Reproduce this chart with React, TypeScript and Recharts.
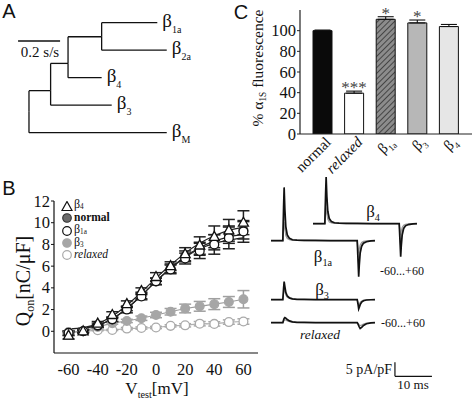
import React from 'react';
import {
  ComposedChart, BarChart, LineChart, Bar, Line, Scatter, XAxis, YAxis,
  ErrorBar, Cell, LabelList, ReferenceLine,
} from 'recharts';

const SERIF = '"Liberation Serif", "Times New Roman", serif';
const SANS = '"Liberation Sans", Arial, sans-serif';

// ---------- Panel A: tree ----------
const treeSub = ['', '', '', '', '1a', '2a', '4', '3', 'M'];
const treeX = [0, 0.103, 0.186, 0.346, 0.611, 0.656, 0.346, 0.394, 0.656];
const treeY = [4.24, 3.47, 2.48, 1.51, 1, 2, 3, 4, 5];
const treeParent = [-1, 0, 1, 2, 3, 3, 2, 1, 0];
const treeScaleLen = 0.2;
const treeScaleStart = -0.052;
const treeScaleRow = 1.665;

// ---------- Panel B: charge-voltage ----------
const voltages = [-60, -50, -40, -30, -20, -10, 0, 10, 20, 30, 40, 50, 60];
const qB4 = [-0.4, 0.0, 0.7, 1.5, 2.5, 3.7, 5.0, 6.0, 7.1, 7.9, 8.7, 9.3, 10.0];
const eB4 = [0.3, 0.2, 0.2, 0.3, 0.3, 0.3, 0.4, 0.4, 0.6, 0.8, 1.0, 1.0, 1.1];
const qNormal = [-0.2, 0.0, 0.5, 1.1, 2.1, 3.3, 4.6, 5.8, 6.9, 7.6, 8.2, 8.9, 9.3];
const eNormal = [0.2, 0.1, 0.1, 0.2, 0.2, 0.3, 0.3, 0.4, 0.5, 0.6, 0.7, 0.8, 0.8];
const qB1a = [-0.15, 0.0, 0.55, 1.1, 2.0, 3.2, 4.6, 5.7, 6.7, 7.4, 8.0, 8.6, 9.2];
const eB1a = [0.2, 0.1, 0.2, 0.2, 0.3, 0.3, 0.3, 0.4, 0.5, 0.7, 0.9, 1.0, 1.0];
const qB3 = [-0.1, 0.0, 0.4, 0.75, 0.95, 1.2, 1.5, 1.8, 2.1, 2.3, 2.5, 2.7, 2.95];
const eB3 = [0.1, 0.1, 0.1, 0.1, 0.15, 0.2, 0.25, 0.3, 0.4, 0.45, 0.5, 0.5, 0.8];
const qRelaxed = [-0.1, 0.0, 0.1, 0.12, 0.25, 0.3, 0.35, 0.5, 0.55, 0.7, 0.68, 0.85, 0.9];
const eRelaxed = [0.1, 0.05, 0.05, 0.05, 0.1, 0.1, 0.1, 0.1, 0.15, 0.2, 0.2, 0.2, 0.25];
const fitB4 = [0.25, 0.35, 0.7, 1.4, 2.4, 3.6, 4.9, 6.1, 7.2, 8.1, 8.8, 9.3, 9.6];
const fitNormal = [0.2, 0.3, 0.55, 1.15, 2.1, 3.3, 4.6, 5.8, 6.9, 7.7, 8.3, 8.7, 8.9];
const fitB1a = [0.2, 0.3, 0.55, 1.15, 2.1, 3.3, 4.6, 5.8, 6.8, 7.6, 8.1, 8.4, 8.6];
const bXTicks = [-60, -40, -20, 0, 20, 40, 60];
const bYTicks = [0, 2, 4, 6, 8, 10, 12];

// ---------- Panel C: bars ----------
const cCats = ['normal', 'relaxed', 'β1a', 'β3', 'β4'];
const cTickMain = ['normal', 'relaxed', 'β', 'β', 'β'];
const cTickSub = ['', '', '1a', '3', '4'];
const cValues = [100, 39.5, 111, 107.5, 104];
const cErrors = [0.6, 2, 2.5, 2.8, 2];
const cStars = ['', '***', '*', '*', ''];
const cFills = ['#0a0a0a', '#ffffff', 'url(#hatchB1a)', '#b7b7b7', '#e6e6e6'];
const cYTicks = [0, 20, 40, 60, 80, 100];

// ---------- Panel B right: current traces ----------
const traceTime = [0, 2, 3.2, 3.4, 3.55, 3.75, 4.0, 4.4, 5, 5.8, 7, 9, 12, 16, 20, 23.3, 23.55, 23.7, 23.85, 24.1, 24.5, 25.0, 25.8, 27, 28.1];
const b1aBlack = [0, 0, 0, 12, 19, 11, 5, 2, 0.8, 0.3, 0.15, 0.1, 0.05, 0, 0, 0, -8, -12.9, -9, -4.5, -2, -0.9, -0.4, -0.1, 0];
const b1aGray1 = [0, 0, 0, 8.5, 13.5, 8, 3.6, 1.4, 0.6, 0.2, 0.1, 0.05, 0, 0, 0, 0, -5.6, -9, -6.3, -3.2, -1.4, -0.6, -0.3, -0.1, 0];
const b1aGray2 = [0, 0, 0, 4.2, 6.6, 4, 1.8, 0.7, 0.3, 0.1, 0.05, 0, 0, 0, 0, 0, -2.8, -4.5, -3.2, -1.6, -0.7, -0.3, -0.1, 0, 0];
const b4Black = [0, 0, 0, 10.5, 16.6, 9.6, 4.4, 1.8, 0.7, 0.3, 0.15, 0.1, 0.05, 0, 0, 0, -7.4, -11.8, -8.2, -4.1, -1.8, -0.8, -0.35, -0.1, 0];
const b4Gray1 = [0, 0, 0, 7.4, 11.6, 6.7, 3.1, 1.3, 0.5, 0.2, 0.1, 0.05, 0, 0, 0, 0, -5.2, -8.3, -5.8, -2.9, -1.3, -0.6, -0.25, -0.1, 0];
const b4Gray2 = [0, 0, 0, 3.7, 5.8, 3.4, 1.5, 0.6, 0.25, 0.1, 0.05, 0, 0, 0, 0, 0, -2.6, -4.1, -2.9, -1.4, -0.6, -0.3, -0.1, 0, 0];
const b3Black = [0, 0, 0, 4, 6.4, 4.6, 2.6, 1.3, 0.6, 0.25, 0.1, 0.05, 0, 0, 0, 0, -1.9, -3.3, -2.8, -1.8, -0.9, -0.4, -0.15, -0.05, 0];
const b3Gray = [0, 0, 0, 2.5, 4, 2.9, 1.6, 0.8, 0.4, 0.15, 0.05, 0, 0, 0, 0, 0, -1.1, -1.9, -1.6, -1.0, -0.5, -0.2, -0.1, 0, 0];
const relBlack = [0, 0, 0, 0.9, 1.5, 1.8, 1.6, 1.1, 0.6, 0.25, 0.1, 0.05, 0, 0, 0, 0, -0.6, -1.1, -1.5, -2.1, -1.7, -1.0, -0.4, -0.1, 0];
const relGray = [0, 0, 0, 0.5, 0.8, 1, 0.9, 0.6, 0.35, 0.15, 0.05, 0, 0, 0, 0, 0, -0.3, -0.6, -0.8, -1.1, -0.9, -0.5, -0.2, -0.05, 0];
const scaleBarMs = 10;
const scaleBarPA = 5;
const scaleBarT0 = 33.5;
const scaleBarI0 = -19.2;

// ---------- helpers ----------
const Txt = ({ cx, cy, size, family = SERIF, rotate = 0, italic = false, bold = false, color = '#111', children }: any) => (
  <div
    style={{
      position: 'absolute', left: cx, top: cy, fontSize: size, fontFamily: family, lineHeight: 1,
      whiteSpace: 'nowrap', color, fontStyle: italic ? 'italic' : 'normal', fontWeight: bold ? 700 : 400,
      transform: `translate(-50%, -50%) rotate(${rotate}deg)`,
    }}
  >
    {children}
  </div>
);
const Sub = ({ children }: any) => (
  <span style={{ fontSize: '0.6em', position: 'relative', top: '0.35em', lineHeight: 0 }}>{children}</span>
);
const Abs = ({ left, top, children }: any) => (
  <div style={{ position: 'absolute', left, top }}>{children}</div>
);

const mk = (q: number[], e: number[]) => voltages.map((v, i) => ({ v, q: q[i], e: e[i] }));
const mkFit = (q: number[]) => voltages.map((v, i) => ({ v, q: q[i] }));

const openCircle = (stroke: string) => (p: any) => (
  <circle cx={p.cx} cy={p.cy} r={4.4} fill="#fff" stroke={stroke} strokeWidth={1.3} />
);
const fillCircle = (fill: string, stroke: string) => (p: any) => (
  <circle cx={p.cx} cy={p.cy} r={4.4} fill={fill} stroke={stroke} strokeWidth={1.2} />
);
const triangle = (p: any) => (
  <path d={`M${p.cx},${p.cy - 5.5} L${p.cx + 5},${p.cy + 3.5} L${p.cx - 5},${p.cy + 3.5} Z`} fill="#fff" stroke="#111" strokeWidth={1.3} />
);

const LeafLabel = (p: any) => (
  <text x={p.cx + 5} y={p.cy + 4} fontFamily={SERIF} fontSize={19} fill="#111">
    β<tspan fontSize={10} dy={6}>{p.payload.sub}</tspan>
  </text>
);

const XNumTick = (p: any) => (
  <text x={p.x} y={p.y} dy="0.72em" textAnchor="middle" fontFamily={SERIF} fontSize={16.5} fill="#111">
    {p.payload.value}
  </text>
);
const YNumTick = (p: any) => (
  <text x={p.x} y={p.y} dy="0.34em" textAnchor="end" fontFamily={SERIF} fontSize={16.5} fill="#111">
    {p.payload.value}
  </text>
);

const CTick = (p: any) => {
  const i = p.index;
  const italic = cTickMain[i] === 'relaxed';
  return (
    <g transform={`translate(${p.x + 9},${p.y + 9}) rotate(-45)`}>
      <text textAnchor="end" fontFamily={SERIF} fontSize={15} fill="#111" fontStyle={italic ? 'italic' : 'normal'}>
        {cTickMain[i]}
        {cTickSub[i] ? <tspan fontSize={9} dy={4}>{cTickSub[i]}</tspan> : null}
      </text>
    </g>
  );
};

const StarLabel = (p: any) => {
  const vb = p.viewBox || p;
  const i = p.index;
  if (!cStars[i]) return null;
  const x = vb.x + vb.width / 2;
  const pxPerUnit = vb.height / cValues[i];
  const errTop = vb.y - cErrors[i] * pxPerUnit;
  return (
    <text x={x} y={errTop + 2} textAnchor="middle" fontFamily={SERIF} fontSize={17} fill="#444">
      {cStars[i]}
    </text>
  );
};

const TraceChart = ({ rows, keys, scaleBar = false }: any) => {
  const data = traceTime.map((t, i) => {
    const r: any = { t };
    keys.forEach((k: string, j: number) => { r[k] = rows[j][i]; });
    return r;
  });
  return (
    <LineChart width={166.5} height={123.2} data={data} margin={{ top: 0, right: 0, bottom: 0, left: 0 }}>
      <XAxis type="number" dataKey="t" domain={[0, 45]} hide allowDataOverflow />
      <YAxis type="number" domain={[-22, 22]} hide allowDataOverflow />
      {keys.map((k: string, j: number) => (
        <Line key={k} dataKey={k} type="linear" dot={false} isAnimationActive={false}
          stroke={j === keys.length - 1 ? '#111' : '#9a9a9a'} strokeWidth={j === keys.length - 1 ? 1.7 : 1.2} />
      ))}
      {scaleBar ? (
        <ReferenceLine segment={[{ x: scaleBarT0, y: scaleBarI0 + scaleBarPA }, { x: scaleBarT0, y: scaleBarI0 }]} stroke="#111" strokeWidth={1.2} ifOverflow="visible" />
      ) : null}
      {scaleBar ? (
        <ReferenceLine segment={[{ x: scaleBarT0, y: scaleBarI0 }, { x: scaleBarT0 + scaleBarMs, y: scaleBarI0 }]} stroke="#111" strokeWidth={1.2} ifOverflow="visible" />
      ) : null}
    </LineChart>
  );
};

const legendText = { position: 'absolute' as const, left: 74, fontFamily: SERIF, lineHeight: '10px', height: 10, color: '#111', whiteSpace: 'nowrap' as const };
const LSub = ({ children }: any) => (
  <span style={{ fontSize: '0.6em', position: 'relative', top: '0.1em', lineHeight: 0 }}>{children}</span>
);

export default function App() {
  const treeSegments: any[] = [];
  treeParent.forEach((p, i) => {
    if (p < 0) return;
    treeSegments.push([{ x: treeX[p], y: treeY[p] }, { x: treeX[p], y: treeY[i] }]);
    treeSegments.push([{ x: treeX[p], y: treeY[i] }, { x: treeX[i], y: treeY[i] }]);
  });
  const leaves = treeX.map((x, i) => ({ x, y: treeY[i], sub: treeSub[i] })).filter((d) => d.sub);

  const relaxedData = mk(qRelaxed, eRelaxed);
  const b3Data = mk(qB3, eB3);
  const normalData = mk(qNormal, eNormal);
  const b1aData = mk(qB1a, eB1a);
  const b4Data = mk(qB4, eB4);

  const cData = cCats.map((c, i) => ({ c, val: cValues[i], err: [0, cErrors[i]], star: cStars[i] }));

  return (
    <div style={{ position: 'absolute', left: 0, top: 0, width: 474, height: 398, background: '#fff', overflow: 'hidden' }}>
      <svg width={0} height={0} style={{ position: 'absolute' }}>
        <defs>
          <pattern id="hatchB1a" patternUnits="userSpaceOnUse" width={4} height={4} patternTransform="rotate(45)">
            <rect width={4} height={4} fill="#8c8c8c" />
            <line x1={0} y1={0} x2={0} y2={4} stroke="#333" strokeWidth={1.6} />
          </pattern>
        </defs>
      </svg>

      {/* Panel A */}
      <Abs left={0} top={0}>
        <ComposedChart width={240} height={150} margin={{ top: 0, right: 0, bottom: 0, left: 0 }}>
          <XAxis type="number" dataKey="x" domain={[-0.138, 1.0048]} hide allowDataOverflow />
          <YAxis type="number" dataKey="y" domain={[0.1745, 5.629]} reversed hide allowDataOverflow />
          {treeSegments.map((s, k) => (
            <ReferenceLine key={k} segment={s} stroke="#111" strokeWidth={1.3} ifOverflow="visible" />
          ))}
          <ReferenceLine segment={[{ x: treeScaleStart, y: treeScaleRow }, { x: treeScaleStart + treeScaleLen, y: treeScaleRow }]} stroke="#111" strokeWidth={1.3} ifOverflow="visible" />
          <Scatter data={leaves} dataKey="y" shape={LeafLabel} isAnimationActive={false} />
        </ComposedChart>
      </Abs>
      <Txt cx={40} cy={52} size={15}>0.2 s/s</Txt>
      <Txt cx={9} cy={11} size={20} family={SANS}>A</Txt>
      <Txt cx={9} cy={188} size={20} family={SANS}>B</Txt>
      <Txt cx={241} cy={12} size={20} family={SANS}>C</Txt>

      {/* Panel B left */}
      <Abs left={0} top={190}>
        <ComposedChart width={265} height={208} margin={{ top: 11, right: 7, bottom: 0, left: 0 }}>
          <XAxis type="number" dataKey="v" domain={[-70, 70]} ticks={bXTicks} interval={0} height={45}
            tick={<XNumTick />} tickLine={false} tickMargin={4} axisLine={{ stroke: '#111', strokeWidth: 1.2 }} allowDataOverflow />
          <YAxis type="number" domain={[-2, 12]} ticks={bYTicks} interval={0} width={54}
            tick={<YNumTick />} tickSize={3} tickMargin={1} tickLine={{ stroke: '#111' }} axisLine={{ stroke: '#111', strokeWidth: 1.2 }} allowDataOverflow />
          <Line data={relaxedData} dataKey="q" stroke="#b0b0b0" strokeWidth={1.2} dot={false} isAnimationActive={false} />
          <Scatter data={relaxedData} dataKey="q" shape={openCircle('#aaaaaa')} isAnimationActive={false}>
            <ErrorBar dataKey="e" direction="y" width={6} stroke="#aaaaaa" />
          </Scatter>
          <Line data={b3Data} dataKey="q" stroke="#9c9c9c" strokeWidth={1.2} dot={false} isAnimationActive={false} />
          <Scatter data={b3Data} dataKey="q" shape={fillCircle('#a6a6a6', '#a6a6a6')} isAnimationActive={false}>
            <ErrorBar dataKey="e" direction="y" width={6} stroke="#a0a0a0" />
          </Scatter>
          <Line data={mkFit(fitNormal)} dataKey="q" type="monotone" stroke="#222" strokeWidth={1.2} dot={false} isAnimationActive={false} />
          <Line data={mkFit(fitB1a)} dataKey="q" type="monotone" stroke="#222" strokeWidth={1.2} dot={false} isAnimationActive={false} />
          <Line data={mkFit(fitB4)} dataKey="q" type="monotone" stroke="#222" strokeWidth={1.2} dot={false} isAnimationActive={false} />
          <Scatter data={normalData} dataKey="q" shape={fillCircle('#6c6c6c', '#333')} isAnimationActive={false}>
            <ErrorBar dataKey="e" direction="y" width={6} stroke="#222" />
          </Scatter>
          <Scatter data={b1aData} dataKey="q" shape={openCircle('#111')} isAnimationActive={false}>
            <ErrorBar dataKey="e" direction="y" width={6} stroke="#222" />
          </Scatter>
          <Scatter data={b4Data} dataKey="q" shape={triangle} isAnimationActive={false}>
            <ErrorBar dataKey="e" direction="y" width={6} stroke="#222" />
          </Scatter>
        </ComposedChart>
      </Abs>
      <Txt cx={23} cy={281} size={20} rotate={-90}>Q<Sub>on</Sub>[nC/μF]</Txt>
      <Txt cx={157} cy={388} size={17}>V<Sub>test</Sub>[mV]</Txt>

      {/* Legend B */}
      <Abs left={61} top={199}>
        <svg width={12} height={12}><path d="M6,0.5 L11,9.5 L1,9.5 Z" fill="#fff" stroke="#111" strokeWidth={1.2} /></svg>
      </Abs>
      <Abs left={61} top={210}>
        <svg width={12} height={12}><circle cx={6} cy={6} r={4.3} fill="#6c6c6c" stroke="#333" strokeWidth={1.1} /></svg>
      </Abs>
      <Abs left={61} top={223}>
        <svg width={12} height={12}><circle cx={6} cy={6} r={4.3} fill="#fff" stroke="#111" strokeWidth={1.2} /></svg>
      </Abs>
      <Abs left={61} top={235}>
        <svg width={12} height={12}><circle cx={6} cy={6} r={4.3} fill="#a6a6a6" stroke="#a6a6a6" strokeWidth={1.1} /></svg>
      </Abs>
      <Abs left={61} top={247}>
        <svg width={12} height={12}><circle cx={6} cy={6} r={4.3} fill="#fff" stroke="#aaa" strokeWidth={1.2} /></svg>
      </Abs>
      <div style={{ ...legendText, top: 199, fontSize: 12 }}>β<LSub>4</LSub></div>
      <div style={{ ...legendText, top: 212, fontSize: 11.5, fontWeight: 700 }}>normal</div>
      <div style={{ ...legendText, top: 224, fontSize: 12 }}>β<LSub>1a</LSub></div>
      <div style={{ ...legendText, top: 237, fontSize: 12 }}>β<LSub>3</LSub></div>
      <div style={{ ...legendText, top: 249, fontSize: 11.5 }}><i>relaxed</i></div>

      {/* Panel C */}
      <Abs left={240} top={0}>
        <BarChart width={234} height={200} data={cData} margin={{ top: 10, right: 2, bottom: 0, left: 0 }}>
          <XAxis dataKey="c" height={66} padding={{ left: 7, right: 7 }} tickLine={false} tickSize={0} tickMargin={0} interval={0}
            tick={<CTick />} axisLine={{ stroke: '#222', strokeWidth: 1.2 }} />
          <YAxis type="number" domain={[0, 120]} ticks={cYTicks} interval={0} width={60} tickSize={3} tickMargin={1}
            tick={<YNumTick />} axisLine={{ stroke: '#222', strokeWidth: 1.2 }} tickLine={{ stroke: '#222' }} allowDataOverflow />
          <Bar dataKey="val" barSize={19} stroke="#111" strokeWidth={1} isAnimationActive={false}>
            {cData.map((d, i) => (
              <Cell key={d.c} fill={cFills[i]} />
            ))}
            <ErrorBar dataKey="err" width={8} stroke="#111" strokeWidth={1.1} />
            <LabelList dataKey="star" content={StarLabel} />
          </Bar>
        </BarChart>
      </Abs>
      <Txt cx={258} cy={68} size={15.5} rotate={-90}>% α<Sub>1S</Sub> fluorescence</Txt>

      {/* Traces */}
      <Abs left={312.7} top={161.7}>
        <TraceChart rows={[b4Gray2, b4Gray1, b4Black]} keys={['g2', 'g1', 'b']} />
      </Abs>
      <Abs left={271} top={178.7}>
        <TraceChart rows={[b1aGray2, b1aGray1, b1aBlack]} keys={['g2', 'g1', 'b']} />
      </Abs>
      <Abs left={271} top={238.4}>
        <TraceChart rows={[b3Gray, b3Black]} keys={['g1', 'b']} />
      </Abs>
      <Abs left={271} top={261.4}>
        <TraceChart rows={[relGray, relBlack]} keys={['g1', 'b']} scaleBar />
      </Abs>
      <Txt cx={373} cy={211} size={17}>β<Sub>4</Sub></Txt>
      <Txt cx={323} cy={256} size={17}>β<Sub>1a</Sub></Txt>
      <Txt cx={402} cy={271} size={12}>-60...+60</Txt>
      <Txt cx={322} cy={289} size={17}>β<Sub>3</Sub></Txt>
      <Txt cx={403} cy={323} size={12}>-60...+60</Txt>
      <Txt cx={320} cy={335} size={13.5} italic>relaxed</Txt>
      <Txt cx={369} cy={370} size={14}>5 pA/pF</Txt>
      <Txt cx={413} cy={384} size={13}>10 ms</Txt>
    </div>
  );
}
